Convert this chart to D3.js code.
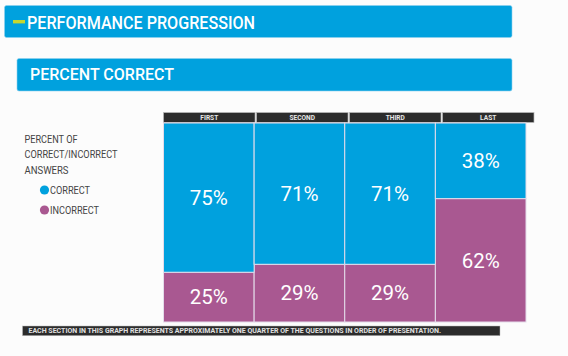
<!DOCTYPE html>
<html>
<head>
<meta charset="utf-8">
<script src="https://cdn.jsdelivr.net/npm/d3@7"></script>
<style>
  html, body { margin: 0; padding: 0; background: #fcfcfc; }
  svg { display: block; font-family: Roboto, "Noto Sans", sans-serif; }
</style>
</head>
<body>
<svg id="chart" width="568" height="356"></svg>
<script>
// ---- data ----
const categories = ["FIRST", "SECOND", "THIRD", "LAST"];
const correct = [75, 71, 71, 38];
const incorrect = [25, 29, 29, 62];
const seriesNames = ["CORRECT", "INCORRECT"];
const pageTitle = "PERFORMANCE PROGRESSION";
const chartTitle = "PERCENT CORRECT";
const legendTitle = ["PERCENT OF", "CORRECT/INCORRECT", "ANSWERS"];
const footnote = "EACH SECTION IN THIS GRAPH REPRESENTS APPROXIMATELY ONE QUARTER OF THE QUESTIONS IN ORDER OF PRESENTATION.";

const BLUE = "#00a1de", PINK = "#a95891", DARK = "#2c2c2c";
const svg = d3.select("#chart");

// page header
svg.append("rect").attr("x", 4.5).attr("y", 5.5).attr("width", 507.5).attr("height", 32)
  .attr("rx", 2).attr("fill", BLUE).attr("stroke", "#8fd0ee").attr("stroke-width", 0.6);
svg.append("rect").attr("x", 13).attr("y", 20).attr("width", 12).attr("height", 3.4).attr("fill", "#c6d72f");
svg.append("text").attr("x", 27).attr("y", 29.2).attr("fill", "#fff")
  .attr("font-size", 17.5).attr("font-weight", 500)
  .attr("textLength", 228).attr("lengthAdjust", "spacingAndGlyphs").text(pageTitle);

// chart header
svg.append("rect").attr("x", 17).attr("y", 58.5).attr("width", 495).attr("height", 32.5)
  .attr("rx", 2).attr("fill", BLUE).attr("stroke", "#8fd0ee").attr("stroke-width", 0.6);
svg.append("text").attr("x", 30).attr("y", 80).attr("fill", "#fff")
  .attr("font-size", 17).attr("font-weight", 500)
  .attr("textLength", 144).attr("lengthAdjust", "spacingAndGlyphs").text(chartTitle);

// legend
const legendWidths = [53, 93, 44];
legendTitle.forEach((t, i) => {
  svg.append("text").attr("x", 24.5).attr("y", 142.7 + i * 15.5).attr("fill", "#444")
    .attr("font-size", 10.5).attr("textLength", legendWidths[i]).attr("lengthAdjust", "spacingAndGlyphs").text(t);
});
const color = d3.scaleOrdinal().domain(seriesNames).range([BLUE, PINK]);
const legY = d3.scalePoint().domain(seriesNames).range([190, 210]);
const legW = [40, 49];
seriesNames.forEach((s, i) => {
  svg.append("circle").attr("cx", 44.5).attr("cy", legY(s)).attr("r", 4.6).attr("fill", color(s));
  svg.append("text").attr("x", 50).attr("y", legY(s) + 3.6).attr("fill", "#444")
    .attr("font-size", 10.5).attr("textLength", legW[i]).attr("lengthAdjust", "spacingAndGlyphs").text(s);
});

// scales
const x = d3.scaleBand().domain(categories).range([163.5, 526]).padding(0);
const xh = d3.scaleBand().domain(categories).range([163.5, 534]).paddingInner(0.015).paddingOuter(0);
const y = d3.scaleLinear().domain([0, 100]).range([322, 123]);

// column headers
const hg = svg.append("g");
categories.forEach(c => {
  hg.append("rect").attr("x", xh(c)).attr("y", 112.5).attr("width", xh.bandwidth()).attr("height", 10)
    .attr("fill", DARK).attr("stroke", "#bbb").attr("stroke-width", 0.7);
  hg.append("text").attr("x", xh(c) + xh.bandwidth() / 2).attr("y", 120.2).attr("text-anchor", "middle")
    .attr("fill", "#e6e6e6").attr("font-size", 6.6).attr("font-weight", 700).text(c);
});

// stacked bars
const rows = categories.map((c, i) => ({ cat: c, CORRECT: correct[i], INCORRECT: incorrect[i] }));
const stack = d3.stack().keys(["INCORRECT", "CORRECT"])(rows);
const bars = svg.append("g");
stack.forEach(layer => {
  layer.forEach(d => {
    const c = d.data.cat;
    const y0 = y(d[1]), y1 = y(d[0]);
    bars.append("rect").attr("x", x(c)).attr("y", y0).attr("width", x.bandwidth()).attr("height", y1 - y0)
      .attr("fill", color(layer.key)).attr("stroke", "#e4dcea").attr("stroke-width", 1);
    bars.append("text").attr("x", x(c) + x.bandwidth() / 2).attr("y", (y0 + y1) / 2 + 7.3)
      .attr("text-anchor", "middle").attr("fill", "#fff").attr("font-size", 20.5).attr("font-weight", 400)
      .text(d.data[layer.key] + "%");
  });
});

// footnote
svg.append("rect").attr("x", 22.5).attr("y", 326).attr("width", 477.5).attr("height", 9.7).attr("fill", DARK)
  .attr("stroke", "#bbb").attr("stroke-width", 0.5);
svg.append("text").attr("x", 28.5).attr("y", 333.4).attr("fill", "#e0e0e0").attr("font-size", 7).attr("font-weight", 700)
  .attr("textLength", 412.5).attr("lengthAdjust", "spacingAndGlyphs").text(footnote);
</script>
</body>
</html>
